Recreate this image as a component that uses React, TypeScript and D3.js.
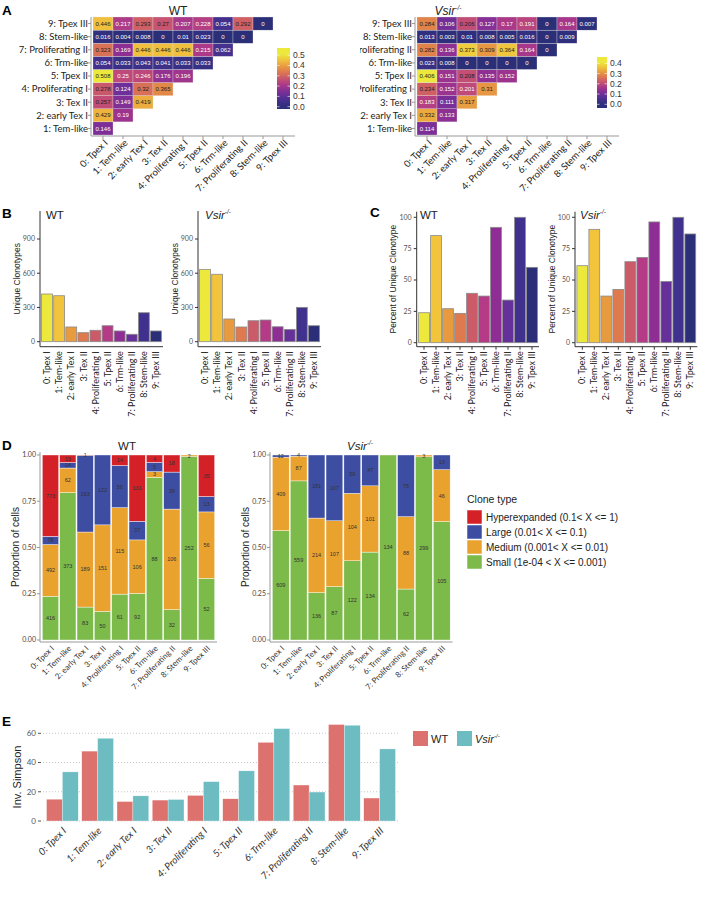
import React from "react";
import * as d3 from "d3";

const clusters = [
  "0: Tpex I",
  "1: Tem-like",
  "2: early Tex I",
  "3: Tex II",
  "4: Proliferating I",
  "5: Tpex II",
  "6: Trm-like",
  "7: Proliferating II",
  "8: Stem-like",
  "9: Tpex III",
];

const clusterColors = [
  "#ece83c", "#f2c43c", "#e89a3f", "#df7a4e", "#cc5b6a",
  "#b53b86", "#8e2e95", "#66309a", "#41318f", "#2b2f78",
];

// overlap index, row k = cluster k against clusters 0..k-1
const wtOverlap = [
  [0.146],
  [0.429, 0.19],
  [0.257, 0.149, 0.419],
  [0.278, 0.124, 0.32, 0.365],
  [0.508, 0.25, 0.246, 0.176, 0.196],
  [0.054, 0.033, 0.043, 0.041, 0.033, 0.033],
  [0.323, 0.169, 0.446, 0.446, 0.446, 0.215, 0.062],
  [0.016, 0.004, 0.008, 0, 0.01, 0.023, 0, 0],
  [0.446, 0.217, 0.293, 0.27, 0.207, 0.228, 0.054, 0.292, 0],
];
const vsirOverlap = [
  [0.114],
  [0.332, 0.133],
  [0.183, 0.111, 0.317],
  [0.234, 0.152, 0.201, 0.31],
  [0.406, 0.151, 0.208, 0.135, 0.152],
  [0.023, 0.008, 0, 0, 0, 0],
  [0.282, 0.136, 0.373, 0.309, 0.364, 0.164, 0],
  [0.013, 0.003, 0.01, 0.008, 0.005, 0.016, 0, 0.009],
  [0.284, 0.106, 0.206, 0.127, 0.17, 0.191, 0, 0.164, 0.007],
];

const wtUnique = [418, 403, 129, 79, 100, 140, 94, 65, 254, 94];
const vsirUnique = [634, 591, 199, 129, 184, 190, 131, 108, 301, 140];
const wtPercent = [23.9, 85.4, 27.1, 23.4, 39.4, 37.2, 92, 34, 100, 60.1];
const vsirPercent = [61.4, 90.4, 37.2, 42.5, 64.6, 68, 96.3, 48.9, 100, 86.7];

const cloneKeys = ["small", "medium", "large", "hyper"];
const cloneLabels = [
  "Hyperexpanded (0.1< X <= 1)",
  "Large (0.01< X <= 0.1)",
  "Medium (0.001< X <= 0.01)",
  "Small (1e-04 < X <= 0.001)",
];
const cloneColors = { hyper: "#d42027", large: "#3d4ea2", medium: "#eaa22f", small: "#7cba4a" };

const wtSmall = [416, 373, 83, 50, 61, 92, 88, 32, 252, 52];
const wtMedium = [492, 62, 189, 151, 115, 106, 3, 106, 2, 56];
const wtLarge = [78, 14, 193, 122, 56, 37, 5, 39, 0, 13];
const wtHyper = [773, 19, 1, 0, 14, 131, 4, 18, 0, 35];
const vsirSmall = [609, 559, 136, 87, 122, 134, 134, 62, 299, 105];
const vsirMedium = [409, 87, 214, 107, 104, 101, 0, 88, 3, 46];
const vsirLarge = [12, 4, 181, 107, 59, 47, 0, 75, 0, 13];
const vsirHyper = [0, 0, 0, 0, 0, 0, 0, 0, 0, 0];

const wtSimpson = [14.9, 47.8, 13.3, 14.3, 17.5, 15.2, 53.8, 24.6, 66, 15.7];
const vsirSimpson = [33.6, 56.6, 17.2, 14.7, 26.9, 34.3, 63.2, 19.8, 65.5, 49.3];

const SANS = "'Liberation Sans', Arial, sans-serif";
const LABEL = "Lato, 'Liberation Sans', sans-serif";
const heatRamp = d3.interpolateRgbBasis([...clusterColors].reverse());

function Vsir({ x, y, size, anchor = "start", rotate }: any) {
  return (
    <text
      x={x}
      y={y}
      fontSize={size}
      textAnchor={anchor}
      fontStyle="italic"
      fontFamily={SANS}
      fill="#222"
      transform={rotate}
    >
      Vsir
      <tspan fontSize={size * 0.55} dy={-size * 0.4}>
        -/-
      </tspan>
    </text>
  );
}

function Heatmap({ rows, x0, title, titleX, bar, clip }: any) {
  const x = d3.scaleBand<number>().domain(d3.range(10)).range([x0, x0 + 200]);
  const y = d3.scaleBand<number>().domain(d3.range(9, 0, -1)).range([17, 135]);
  const max = d3.max(rows.flat() as number[]) as number;
  const col = (v: number) => heatRamp(v / max);
  const ly = d3.scaleLinear().domain([0, bar.tick]).range([bar.zeroY, bar.tickY]);
  const gid = "grad" + x0;
  const stops = d3.range(0, 1.001, 0.1);
  const barTopVal = ly.invert(bar.y0);
  const barBotVal = ly.invert(bar.y1);
  const ticks = d3.range(0, bar.tick + 0.001, 0.1);
  return (
    <g>
      <defs>
        <linearGradient id={gid} x1="0" y1="1" x2="0" y2="0">
          {stops.map((t) => (
            <stop
              key={t}
              offset={t}
              stopColor={col(Math.max(0, Math.min(max, barBotVal + t * (barTopVal - barBotVal))))}
            />
          ))}
        </linearGradient>
      </defs>
      <g clipPath={clip ? "url(#clipA)" : undefined}>
        {y.domain().map((r) => (
          <text
            key={r}
            x={x0 - 5}
            y={(y(r) as number) + y.bandwidth() / 2}
            dy="0.35em"
            textAnchor="end"
            fontSize={9.5}
            fontFamily={LABEL}
            fill="#222"
          >
            {clusters[r]}
          </text>
        ))}
      </g>
      {rows.map((vals: number[], i: number) =>
        vals.map((v, j) => (
          <g key={i + "-" + j}>
            <rect
              x={x(j)}
              y={y(i + 1)}
              width={x.bandwidth()}
              height={y.bandwidth()}
              fill={col(v)}
              stroke="#e6e6e6"
              strokeWidth={0.3}
            />
            <text
              x={(x(j) as number) + x.bandwidth() / 2}
              y={(y(i + 1) as number) + y.bandwidth() / 2}
              dy="0.35em"
              textAnchor="middle"
              fontSize={6}
              fontFamily={SANS}
              fill={v / max < 0.5 ? "#fff" : "#222"}
            >
              {v}
            </text>
          </g>
        ))
      )}
      <line x1={x0 - 2} x2={x0 - 2} y1={17} y2={136} stroke="#999" />
      <line x1={x0 - 2} x2={x0 + 202} y1={136} y2={136} stroke="#999" />
      {y.domain().map((r) => (
        <line
          key={r}
          x1={x0 - 5}
          x2={x0 - 2}
          y1={(y(r) as number) + y.bandwidth() / 2}
          y2={(y(r) as number) + y.bandwidth() / 2}
          stroke="#999"
        />
      ))}
      {x.domain().map((c) => {
        const cx = (x(c) as number) + x.bandwidth() / 2;
        return (
          <g key={c}>
            <line x1={cx} x2={cx} y1={136} y2={139} stroke="#999" />
            <text
              transform={`translate(${cx + 3},${141}) rotate(-45)`}
              textAnchor="end"
              dy="0.35em"
              fontSize={9.5}
              fontFamily={LABEL}
              fill="#222"
            >
              {clusters[c]}
            </text>
          </g>
        );
      })}
      {title === "WT" ? (
        <text x={titleX} y={14.5} fontSize={12} textAnchor="middle" fontFamily={SANS} fill="#222">
          WT
        </text>
      ) : (
        <Vsir x={titleX} y={14.5} size={12} anchor="middle" />
      )}
      <rect x={bar.x} y={bar.y0} width={bar.w} height={bar.y1 - bar.y0} fill={`url(#${gid})`} />
      {ticks.map((t) => (
        <g key={t}>
          <line x1={bar.x} x2={bar.x + 2.5} y1={ly(t)} y2={ly(t)} stroke="#fff" strokeWidth={0.6} />
          <line x1={bar.x + bar.w - 2.5} x2={bar.x + bar.w} y1={ly(t)} y2={ly(t)} stroke="#fff" strokeWidth={0.6} />
          <text x={bar.x + bar.w + 3} y={ly(t)} dy="0.35em" fontSize={8.5} fontFamily={SANS} fill="#333">
            {t.toFixed(1)}
          </text>
        </g>
      ))}
    </g>
  );
}

function BarPanel({ values, axisX, range, yDomain, yRange, ticks, top, bottom, title, titleX, yTitle, yTitleX, xTicks }: any) {
  const x = d3.scaleBand<number>().domain(d3.range(10)).range(range).paddingInner(0.1).paddingOuter(0.05);
  const y = d3.scaleLinear().domain(yDomain).range(yRange);
  return (
    <g>
      {values.map((v: number, i: number) => (
        <rect
          key={i}
          x={x(i)}
          y={y(v)}
          width={x.bandwidth()}
          height={y(0) - y(v)}
          fill={clusterColors[i]}
          stroke="#8a8a8a"
          strokeWidth={0.8}
        />
      ))}
      <line x1={axisX} x2={axisX} y1={top} y2={bottom} stroke="#333" />
      <line x1={axisX} x2={range[1] + 1} y1={bottom} y2={bottom} stroke="#333" />
      {ticks.map((t: number) => (
        <g key={t}>
          <line x1={axisX - 3} x2={axisX} y1={y(t)} y2={y(t)} stroke="#333" />
          <text x={axisX - 5} y={y(t)} dy="0.35em" textAnchor="end" fontSize={7} fontFamily={LABEL} fill="#555">
            {t}
          </text>
        </g>
      ))}
      {d3.range(10).map((i) => {
        const cx = (x(i) as number) + x.bandwidth() / 2;
        return (
          <g key={i}>
            {xTicks && <line x1={cx} x2={cx} y1={bottom} y2={bottom + 3} stroke="#333" />}
            <text
              transform={`translate(${cx},${bottom + 4.5}) rotate(-90)`}
              textAnchor="end"
              dy="0.35em"
              fontSize={9}
              fontFamily={LABEL}
              fill="#222"
            >
              {clusters[i]}
            </text>
          </g>
        );
      })}
      <text
        transform={`translate(${yTitleX},${(top + bottom) / 2}) rotate(-90)`}
        textAnchor="middle"
        dy="0.35em"
        fontSize={8.5}
        fontFamily={SANS}
        fill="#222"
      >
        {yTitle}
      </text>
      {title === "WT" ? (
        <text x={titleX} y={219} fontSize={11.5} fontFamily={SANS} fill="#222">
          WT
        </text>
      ) : (
        <Vsir x={titleX} y={219} size={11.5} />
      )}
    </g>
  );
}

function StackPanel({ small, medium, large, hyper, axisX, range, title, titleX, yTitleX }: any) {
  const rows = d3.range(10).map((i) => ({ i, small: small[i], medium: medium[i], large: large[i], hyper: hyper[i] }));
  const series = d3.stack<any>().keys(cloneKeys).offset(d3.stackOffsetExpand)(rows);
  const x = d3.scaleBand<number>().domain(d3.range(10)).range(range).paddingInner(0.06).paddingOuter(0.02);
  const y = d3.scaleLinear().domain([0, 1]).range([640, 455]);
  return (
    <g>
      {series.map((s) =>
        s.map((d, i) => {
          const count = rows[i][s.key];
          if (!count) return null;
          return (
            <g key={s.key + i}>
              <rect
                x={x(i)}
                y={y(d[1])}
                width={x.bandwidth()}
                height={y(d[0]) - y(d[1])}
                fill={(cloneColors as any)[s.key]}
                stroke="#fff"
                strokeWidth={0.4}
              />
              <text
                x={(x(i) as number) + x.bandwidth() / 2}
                y={(y(d[0]) + y(d[1])) / 2}
                dy="0.35em"
                textAnchor="middle"
                fontSize={5.5}
                fontFamily={SANS}
                fill="#333"
              >
                {count}
              </text>
            </g>
          );
        })
      )}
      <line x1={axisX} x2={axisX} y1={452} y2={642} stroke="#999" />
      <line x1={axisX} x2={range[1] + 2} y1={642} y2={642} stroke="#999" />
      {[0, 0.25, 0.5, 0.75, 1].map((t) => (
        <g key={t}>
          <line x1={axisX - 3} x2={axisX} y1={y(t)} y2={y(t)} stroke="#999" />
          <text x={axisX - 4} y={y(t)} dy="0.35em" textAnchor="end" fontSize={7} fontFamily={LABEL} fill="#444">
            {t.toFixed(2)}
          </text>
        </g>
      ))}
      {d3.range(10).map((i) => {
        const cx = (x(i) as number) + x.bandwidth() / 2;
        return (
          <text
            key={i}
            transform={`translate(${cx + 2},${647}) rotate(-45)`}
            textAnchor="end"
            dy="0.35em"
            fontSize={8}
            fontFamily={LABEL}
            fill="#333"
          >
            {clusters[i]}
          </text>
        );
      })}
      <text
        transform={`translate(${yTitleX},${547}) rotate(-90)`}
        textAnchor="middle"
        dy="0.35em"
        fontSize={10}
        fontFamily={SANS}
        fill="#222"
      >
        Proportion of cells
      </text>
      {title === "WT" ? (
        <text x={titleX} y={450} fontSize={11.5} textAnchor="middle" fontFamily={SANS} fill="#222">
          WT
        </text>
      ) : (
        <Vsir x={titleX} y={450} size={11.5} anchor="middle" />
      )}
    </g>
  );
}

function SimpsonPanel() {
  const x = d3.scaleBand<number>().domain(d3.range(10)).range([43, 399]).paddingInner(0.1).paddingOuter(0.1);
  const x2 = d3.scaleBand<string>().domain(["WT", "Vsir"]).range([0, x.bandwidth()]);
  const y = d3.scaleLinear().domain([0, 60]).range([821, 733.3]);
  const fills: any = { WT: "#dc716d", Vsir: "#6cbcc2" };
  return (
    <g>
      {[0, 20, 40, 60].map((t) => (
        <g key={t}>
          <line x1={43} x2={399} y1={y(t)} y2={y(t)} stroke="#c8c8c8" strokeDasharray="1,2" />
          <line x1={38} x2={41} y1={y(t)} y2={y(t)} stroke="#555" />
          <text x={36} y={y(t)} dy="0.35em" textAnchor="end" fontSize={8} fontFamily={LABEL} fill="#555">
            {t}
          </text>
        </g>
      ))}
      {d3.range(10).map((i) => (
        <g key={i}>
          {(["WT", "Vsir"] as const).map((k) => {
            const v = k === "WT" ? wtSimpson[i] : vsirSimpson[i];
            return (
              <rect
                key={k}
                x={(x(i) as number) + (x2(k) as number)}
                y={y(v)}
                width={x2.bandwidth()}
                height={y(0) - y(v)}
                fill={fills[k]}
                stroke="#fff"
                strokeOpacity={0.6}
                strokeWidth={0.5}
              />
            );
          })}
          <text
            transform={`translate(${(x(i) as number) + x.bandwidth() / 2 + 2},${829}) rotate(-45)`}
            textAnchor="end"
            dy="0.35em"
            fontSize={10}
            fontStyle="italic"
            fontFamily={LABEL}
            fill="#333"
          >
            {clusters[i]}
          </text>
        </g>
      ))}
      <text
        transform={`translate(17,777) rotate(-90)`}
        textAnchor="middle"
        dy="0.35em"
        fontSize={11}
        fontFamily={SANS}
        fill="#222"
      >
        Inv. Simpson
      </text>
      <rect x={413} y={731} width={15} height={15} fill={fills.WT} />
      <text x={431} y={742.5} fontSize={11} fontFamily={SANS} fill="#222">
        WT
      </text>
      <rect x={457} y={731} width={15} height={15} fill={fills.Vsir} />
      <Vsir x={475} y={742.5} size={11} />
    </g>
  );
}

export default function App() {
  const legendKeys = ["hyper", "large", "medium", "small"];
  return (
    <svg
      width={718}
      height={900}
      style={{ position: "absolute", left: 0, top: 0, background: "#fff" }}
      fontFamily={SANS}
    >
      <defs>
        <clipPath id="clipA">
          <rect x={360} y={0} width={358} height={200} />
        </clipPath>
      </defs>
      <rect width={718} height={900} fill="#fff" />

      {/* A */}
      <Heatmap
        rows={wtOverlap}
        x0={93}
        title="WT"
        titleX={178}
        bar={{ x: 277, w: 13, y0: 48, y1: 109, tick: 0.5, zeroY: 106.7, tickY: 55.2 }}
      />
      <Heatmap
        rows={vsirOverlap}
        x0={417}
        title="Vsir"
        titleX={448}
        clip
        bar={{ x: 597, w: 10, y0: 57, y1: 108, tick: 0.4, zeroY: 104.3, tickY: 63.3 }}
      />

      {/* B */}
      <BarPanel
        values={wtUnique}
        axisX={40}
        range={[41, 162]}
        yDomain={[0, 900]}
        yRange={[341.7, 239]}
        ticks={[0, 300, 600, 900]}
        top={211}
        bottom={346.7}
        title="WT"
        titleX={46}
        yTitle="Unique Clonotypes"
        yTitleX={17}
      />
      <BarPanel
        values={vsirUnique}
        axisX={198}
        range={[199, 320]}
        yDomain={[0, 900]}
        yRange={[341.7, 239]}
        ticks={[0, 300, 600, 900]}
        top={211}
        bottom={346.7}
        title="Vsir"
        titleX={205}
        yTitle="Unique Clonotypes"
        yTitleX={175}
      />

      {/* C */}
      <BarPanel
        values={wtPercent}
        axisX={416.7}
        range={[418, 538]}
        yDomain={[0, 100]}
        yRange={[342.7, 217.3]}
        ticks={[0, 25, 50, 75, 100]}
        top={211.7}
        bottom={346.7}
        title="WT"
        titleX={420}
        yTitle="Percent of Unique Clonotype"
        yTitleX={393}
        xTicks
      />
      <BarPanel
        values={vsirPercent}
        axisX={575}
        range={[576.3, 696.3]}
        yDomain={[0, 100]}
        yRange={[342.7, 217.3]}
        ticks={[0, 25, 50, 75, 100]}
        top={211.7}
        bottom={346.7}
        title="Vsir"
        titleX={580}
        yTitle="Percent of Unique Clonotype"
        yTitleX={552}
        xTicks
      />

      {/* D */}
      <StackPanel
        small={wtSmall}
        medium={wtMedium}
        large={wtLarge}
        hyper={wtHyper}
        axisX={40}
        range={[42, 215]}
        title="WT"
        titleX={127}
        yTitleX={15}
      />
      <StackPanel
        small={vsirSmall}
        medium={vsirMedium}
        large={vsirLarge}
        hyper={vsirHyper}
        axisX={270}
        range={[272, 450.5]}
        title="Vsir"
        titleX={360}
        yTitleX={245}
      />
      <text x={467} y={503} fontSize={10.5} fontFamily={SANS} fill="#222">
        Clone type
      </text>
      {legendKeys.map((k, i) => (
        <g key={k}>
          <rect x={467} y={510 + i * 15} width={15} height={14} fill={(cloneColors as any)[k]} stroke="#fff" strokeWidth={0.5} />
          <text x={486} y={517 + i * 15} dy="0.35em" fontSize={10} fontFamily={SANS} fill="#222">
            {cloneLabels[i]}
          </text>
        </g>
      ))}

      {/* E */}
      <SimpsonPanel />

      {/* panel letters */}
      {[
        ["A", 2, 15],
        ["B", 2, 218],
        ["C", 370, 217],
        ["D", 2, 450],
        ["E", 2, 726],
      ].map(([t, x, y]) => (
        <text key={t as string} x={x as number} y={y as number} fontSize={13.5} fontWeight="bold" fontFamily={SANS} fill="#000">
          {t}
        </text>
      ))}
    </svg>
  );
}
